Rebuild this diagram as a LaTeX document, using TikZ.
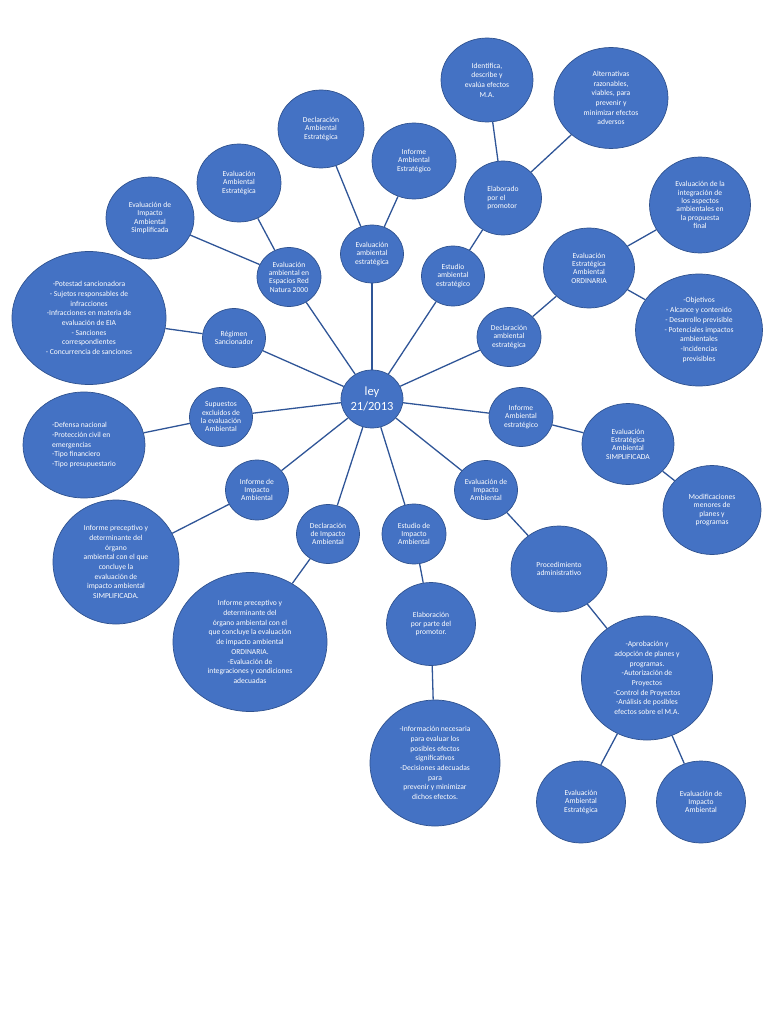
\documentclass[tikz,border=0pt]{standalone}
\usepackage{fontspec}
\setmainfont{Carlito}
\usetikzlibrary{shapes.geometric}
\definecolor{bubF}{HTML}{4472C4}
\definecolor{bubE}{HTML}{2F528F}
\definecolor{linkC}{HTML}{2F5597}
\tikzset{
  bub/.style={ellipse, draw=bubE, line width=0.7pt, fill=bubF, text=white,
    font=\fontsize{7.6}{8.3}\selectfont, align=center, inner sep=0pt},
  bigbub/.style={bub, font=\fontsize{7.6}{9.7}\selectfont},
  link/.style={draw=linkC, line width=1.3pt}
}
\begin{document}
\begin{tikzpicture}[x=1pt,y=-1pt]
\useasboundingbox (0,0) rectangle (768,1024);
% centre
\node[bub, minimum width=62pt, minimum height=58pt, font=\fontsize{12.5}{14.5}\selectfont] (ley) at (372,399) {ley\\21/2013};
% top
\node[bub, minimum width=63pt, minimum height=58pt] (eaeC) at (372,254) {Evaluación\\ambiental\\estratégica};
\node[bub, minimum width=84pt, minimum height=76pt] (infAE) at (414,161) {Informe\\Ambiental\\Estratégico};
\node[bub, minimum width=86pt, minimum height=78pt] (decAE) at (321,129) {Declaración\\Ambiental\\Estratégica};
% upper left
\node[bub, minimum width=64pt, minimum height=59pt] (redN) at (289,277) {Evaluación\\ambiental en\\Espacios Red\\Natura 2000};
\node[bub, minimum width=84pt, minimum height=78pt] (eaeUL) at (239,183) {Evaluación\\Ambiental\\Estratégica};
\node[bub, minimum width=88pt, minimum height=82pt] (eiaS) at (150,218) {Evaluación de\\Impacto\\Ambiental\\Simplificada};
% left
\node[bub, minimum width=63pt, minimum height=59pt] (reg) at (234,338) {Régimen\\Sancionador};
\node[bigbub, minimum width=154pt, minimum height=133pt] (regL) at (89,318) {-Potestad sancionadora\\- Sujetos responsables de\\infracciones\\-Infracciones en materia de\\evaluación de EIA\\- Sanciones\\correspondientes\\- Concurrencia de sanciones};
\node[bub, minimum width=63pt, minimum height=59pt] (sup) at (221,417) {Supuestos\\excluidos de\\la evaluación\\Ambiental};
\node[bigbub, align=left, minimum width=122pt, minimum height=106pt] (supL) at (84,445) {-Defensa nacional\\-Protección civil en\\emergencias\\-Tipo financiero\\-Tipo presupuestario};
% lower left
\node[bub, minimum width=63pt, minimum height=60pt] (iia) at (257,490) {Informe de\\Impacto\\Ambiental};
\node[bigbub, minimum width=126pt, minimum height=124pt] (iiaL) at (116,562) {Informe preceptivo y\\determinante del\\órgano\\ambiental con el que\\concluye la\\evaluación de\\impacto ambiental\\SIMPLIFICADA.};
\node[bub, minimum width=63pt, minimum height=59pt] (dia) at (328,534) {Declaración\\de Impacto\\Ambiental};
\node[bigbub, minimum width=154pt, minimum height=139pt] (diaL) at (250,642) {Informe preceptivo y\\determinante del\\órgano ambiental con el\\que concluye la evaluación\\de impacto ambiental\\ORDINARIA.\\-Evaluación de\\integraciones y condiciones\\adecuadas};
% bottom
\node[bub, minimum width=64pt, minimum height=60pt] (esia) at (414,534) {Estudio de\\Impacto\\Ambiental};
\node[bub, minimum width=89pt, minimum height=83pt] (elab) at (431,624) {Elaboración\\por parte del\\promotor.};
\node[bigbub, minimum width=130pt, minimum height=126pt] (info) at (435,763) {-Información necesaria\\para evaluar los\\posibles efectos\\significativos\\-Decisiones adecuadas\\para\\prevenir y minimizar\\dichos efectos.};
% lower right
\node[bub, minimum width=63pt, minimum height=59pt] (eiaR) at (486,490) {Evaluación de\\Impacto\\Ambiental};
\node[bub, minimum width=96pt, minimum height=86pt] (proc) at (559,569) {Procedimiento\\administrativo};
\node[bigbub, minimum width=131pt, minimum height=124pt] (aprob) at (647,678) {-Aprobación y\\adopción de planes y\\programas.\\-Autorización de\\Proyectos\\-Control de Proyectos\\-Análisis de posibles\\efectos sobre el M.A.};
\node[bub, minimum width=89pt, minimum height=82pt] (eaeB) at (581,802) {Evaluación\\Ambiental\\Estratégica};
\node[bub, minimum width=89pt, minimum height=82pt] (eiaB) at (701,802) {Evaluación de\\Impacto\\Ambiental};
% right
\node[bub, minimum width=64pt, minimum height=59pt] (iaeR) at (521,417) {Informe\\Ambiental\\estratégico};
\node[bub, minimum width=92pt, minimum height=81pt] (eeaS) at (628,444) {Evaluación\\Estratégica\\Ambiental\\SIMPLIFICADA};
\node[bub, minimum width=98pt, minimum height=89pt] (mod) at (712,510) {Modificaciones\\menores de\\planes y\\programas};
\node[bub, minimum width=64pt, minimum height=59pt] (daeR) at (509,337) {Declaración\\ambiental\\estratégica};
\node[bub, minimum width=91pt, minimum height=80pt] (eeaO) at (589,268) {Evaluación\\Estratégica\\Ambiental\\ORDINARIA};
\node[bub, minimum width=101pt, minimum height=96pt] (integ) at (700,205) {Evaluación de la\\integración de\\los aspectos\\ambientales en\\la propuesta\\final};
\node[bigbub, minimum width=127pt, minimum height=112pt] (obj) at (699,330) {-Objetivos\\- Alcance y contenido\\- Desarrollo previsible\\- Potenciales impactos\\ambientales\\-Incidencias\\previsibles};
% upper right
\node[bub, minimum width=63pt, minimum height=60pt] (esae) at (453,276) {Estudio\\ambiental\\estratégico};
\node[bub, align=left, minimum width=77pt, minimum height=74pt] (elabP) at (503,198) {Elaborado\\por el\\promotor};
\node[bub, font=\fontsize{7.6}{9.7}\selectfont, minimum width=92pt, minimum height=84pt] (ident) at (487,80) {Identifica,\\describe y\\evalúa efectos\\M.A.};
\node[bub, font=\fontsize{7.6}{9.6}\selectfont, minimum width=114pt, minimum height=101pt] (alt) at (611,98) {Alternativas\\razonables,\\viables, para\\prevenir y\\minimizar efectos\\adversos};
% links from centre
\foreach \n in {eaeC,redN,reg,sup,iia,dia,esia,eiaR,iaeR,daeR,esae}
  \draw[link] (ley) -- (\n);
% other links
\draw[link] (eaeC) -- (decAE);
\draw[link] (eaeC) -- (infAE);
\draw[link] (redN) -- (eaeUL);
\draw[link] (redN) -- (eiaS);
\draw[link] (reg) -- (regL);
\draw[link] (sup) -- (supL);
\draw[link] (iia) -- (iiaL);
\draw[link] (dia) -- (diaL);
\draw[link] (esia) -- (elab);
\draw[link] (elab) -- (info);
\draw[link] (eiaR) -- (proc);
\draw[link] (proc) -- (aprob);
\draw[link] (aprob) -- (eaeB);
\draw[link] (aprob) -- (eiaB);
\draw[link] (iaeR) -- (eeaS);
\draw[link] (eeaS) -- (mod);
\draw[link] (daeR) -- (eeaO);
\draw[link] (eeaO) -- (integ);
\draw[link] (eeaO) -- (obj);
\draw[link] (esae) -- (elabP);
\draw[link] (elabP) -- (ident);
\draw[link] (elabP) -- (alt);
\end{tikzpicture}
\end{document}
